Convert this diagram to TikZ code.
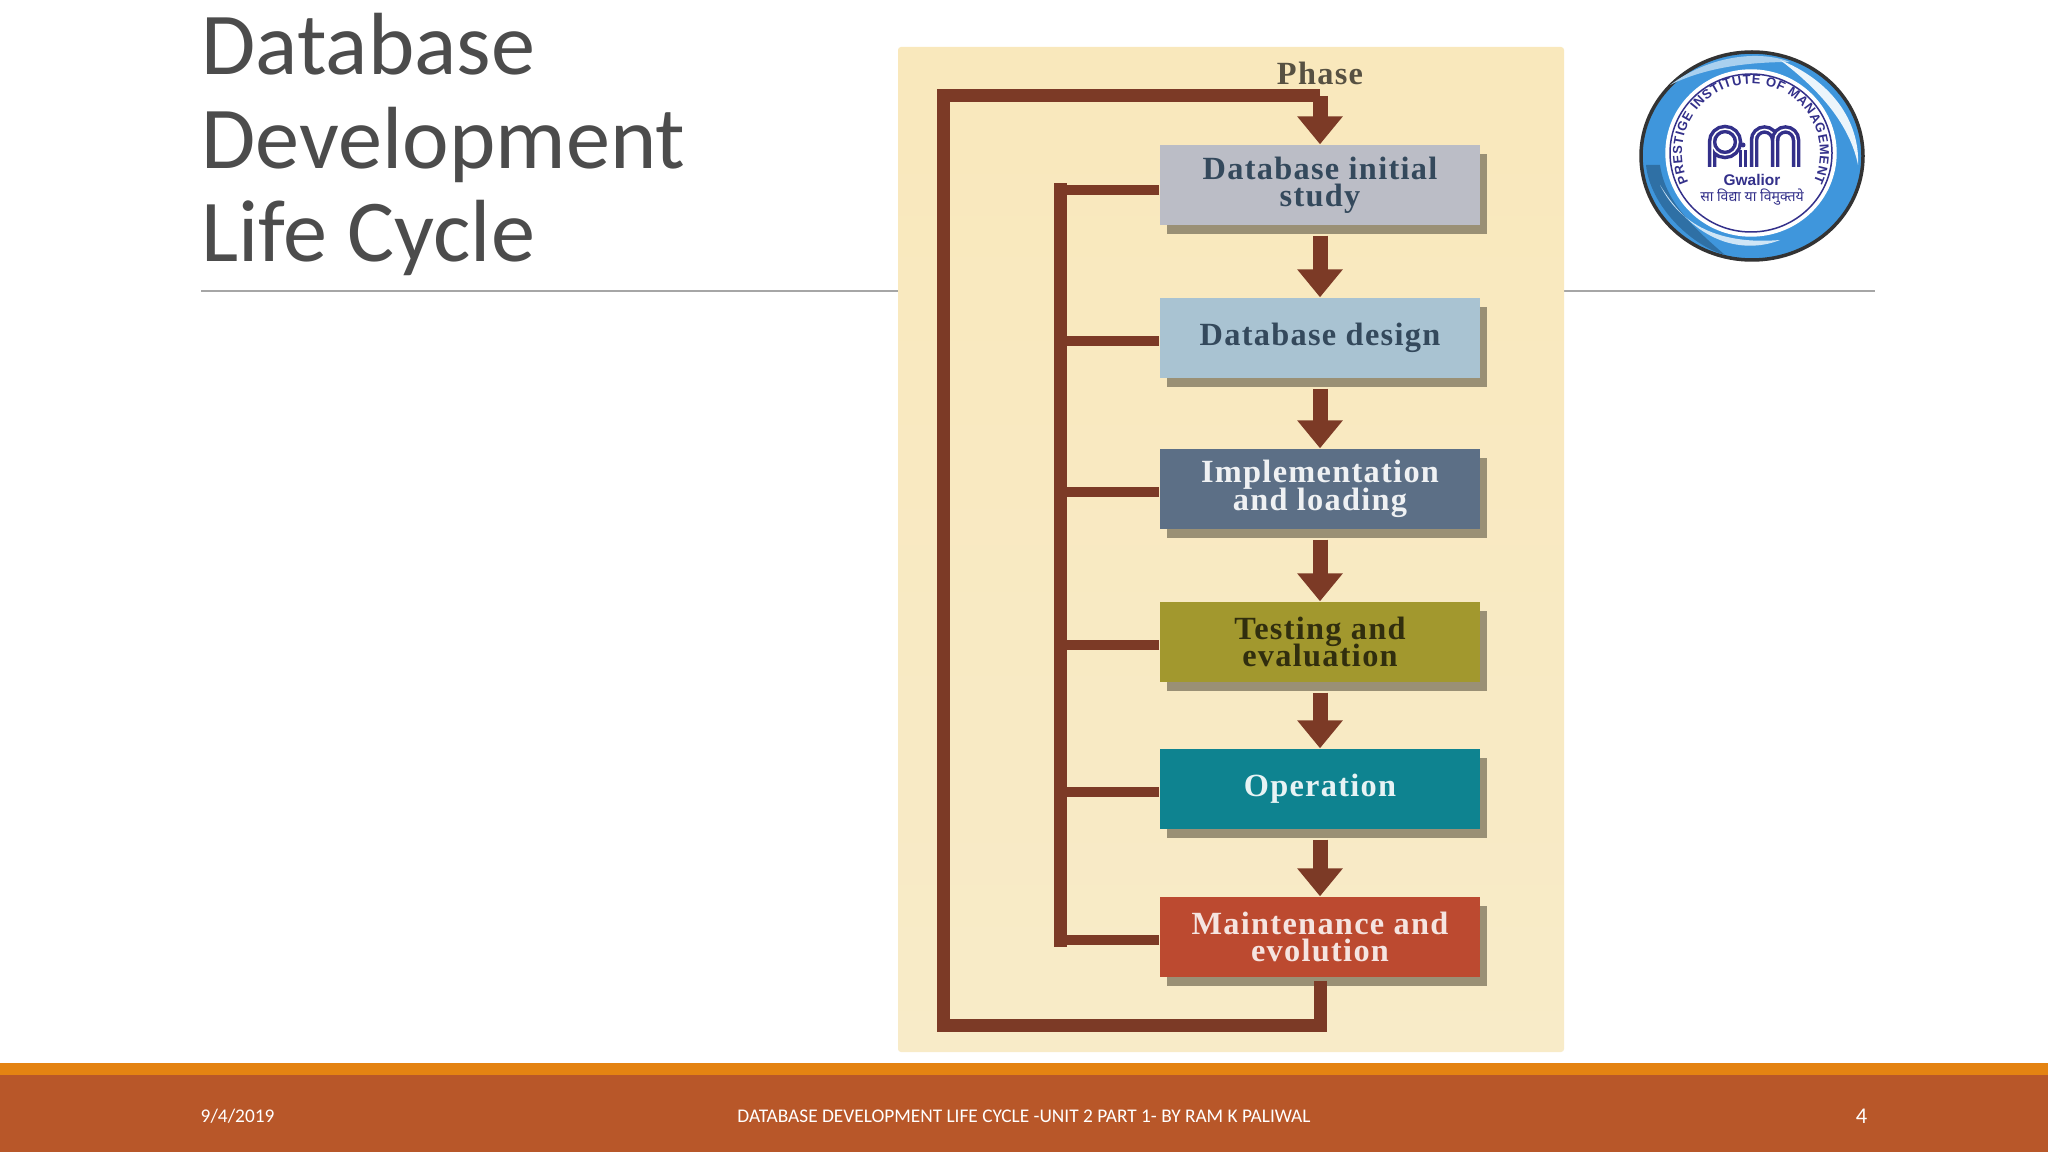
\documentclass[tikz,border=0pt]{standalone}
\usepackage{fontspec}
\usepackage{xcolor}
\setmainfont{Carlito}
\setsansfont{Liberation Sans}
\newfontfamily\boxfont[LetterSpace=4]{Liberation Serif}
\newfontfamily\hindifont[Script=Devanagari]{Noto Sans}
\usetikzlibrary{arrows.meta,positioning,calc,shadows,decorations.text}
\setlength{\lineskiplimit}{-10pt}
\definecolor{panelcol}{HTML}{F9E8BC}
\definecolor{panellow}{HTML}{F8EBC8}
\definecolor{linkcol}{HTML}{7C3A26}
\definecolor{logoblue}{HTML}{3F96DC}
\definecolor{logonavy}{HTML}{33308A}
\definecolor{initcol}{HTML}{BBBDC6}
\definecolor{designcol}{HTML}{A9C3D2}
\definecolor{implcol}{HTML}{5C6F86}
\definecolor{testcol}{HTML}{A2982E}
\definecolor{opercol}{HTML}{0E8390}
\definecolor{maintcol}{HTML}{BC4A30}
\definecolor{darktext}{HTML}{34495C}
\definecolor{bandcol}{HTML}{B85729}
\definecolor{stripecol}{HTML}{E48312}
\begin{document}
\begin{tikzpicture}[
  x=0.01cm, y=0.01cm,
  phasebox/.style={rectangle, minimum width=3.2cm, minimum height=0.8cm, inner sep=0pt, align=center,
    font=\boxfont\bfseries\fontsize{9.2}{7.8}\selectfont,
    drop shadow={shadow xshift=0.07cm, shadow yshift=-0.09cm, fill=black!38!panelcol, opacity=1}},
  flow/.style={-{Triangle[length=0.28cm,width=0.44cm]}, line width=0.15cm, draw=linkcol},
  loopline/.style={line width=0.13cm, draw=linkcol},
  branch/.style={line width=0.1cm, draw=linkcol},
  foot/.style={text=white, font=\fontsize{5.5}{6.5}\selectfont, inner sep=0pt},
  monogram/.style={draw=logonavy, line width=0.035cm, double=white, double distance=0.015cm}
]
\useasboundingbox (0,-1152) rectangle (2048,0);
\fill[white] (0,-1152) rectangle (2048,0);
\node[anchor=north west, inner sep=0pt, align=left, text=black!70, font=\fontsize{25.1}{26.5}\selectfont] (title) at (201,-13) {Database\\Development\\Life Cycle};
\draw[black!35, line width=0.012cm] (201,-291) -- (1875,-291);
\shade[top color=panelcol, bottom color=panellow, rounded corners=0.03cm] (898,-47) rectangle (1564,-1052);

\node[text=black!65!panelcol, font=\boxfont\bfseries\fontsize{9.2}{10}\selectfont, inner sep=0pt] (phase) at (1320,-73) {Phase};
\node[phasebox, fill=initcol, text=darktext] (initial) at (1320,-185) {Database initial\\study};
\node[phasebox, fill=designcol, text=darktext] (design) at (1320,-338) {Database design};
\node[phasebox, fill=implcol, text=white!90!implcol] (impl) at (1320,-489) {Implementation\\and loading};
\node[phasebox, fill=testcol, text=black!70!testcol] (testing) at (1320,-642) {Testing and\\evaluation};
\node[phasebox, fill=opercol, text=white!90!opercol] (oper) at (1320,-789) {Operation};
\node[phasebox, fill=maintcol, text=white!85!maintcol] (maint) at (1320,-937) {Maintenance and\\evolution};

\coordinate (bus) at (1060,-190);
\coordinate (outer) at (943,-96);
\coordinate (bottom) at (943,-1025);

\draw[loopline] ([yshift=-0.03cm]maint.south) |- (bottom) -- (outer) -- (outer -| initial.north);
\draw[flow] (outer -| initial.north) -- (initial.north);
\draw[flow, shorten <=0.1cm] (initial) -- (design);
\draw[flow, shorten <=0.1cm] (design) -- (impl);
\draw[flow, shorten <=0.1cm] (impl) -- (testing);
\draw[flow, shorten <=0.1cm] (testing) -- (oper);
\draw[flow, shorten <=0.1cm] (oper) -- (maint);

\draw[loopline, line cap=rect] (bus) -- ([yshift=-0.03cm]bus |- maint.west);
\draw[branch] ([yshift=-0.05cm]initial.west) -- ([yshift=-0.05cm]initial.west -| bus);
\foreach \n in {design,impl,testing,oper,maint}
  \draw[branch] ([yshift=-0.03cm]\n.west) -- ([yshift=-0.03cm]\n.west -| bus);

\filldraw[fill=logoblue, draw=black!80, line width=0.035cm] (1752,-156) ellipse (111 and 104);
\fill[logoblue!45!white] (1670,-85) .. controls (1710,-55) and (1760,-50) .. (1790,-62) .. controls (1740,-62) and (1700,-70) .. (1670,-85);
\fill[white!90!logoblue] (1780,-60) .. controls (1830,-80) and (1860,-120) .. (1858,-165) .. controls (1850,-125) and (1820,-90) .. (1780,-60);
\fill[black!25!logoblue] (1646,-165) .. controls (1650,-205) and (1690,-245) .. (1725,-255) .. controls (1690,-225) and (1665,-200) .. (1660,-165) -- cycle;
\fill[white!75!logoblue] (1660,-185) .. controls (1680,-225) and (1720,-245) .. (1780,-240) .. controls (1750,-252) and (1700,-250) .. (1660,-185);
\filldraw[fill=white, draw=white] (1751,-153) ellipse (85 and 83);
\draw[logonavy, line width=0.015cm] (1751,-153) ellipse (81 and 79);
\path[decorate, decoration={text along path, text align=fit to path,
  text={|\sffamily\bfseries\fontsize{3.7}{4}\selectfont\color{logonavy}|PRESTIGE INSTITUTE OF MANAGEMENT}}]
  (1751,-153) ++(205:69) arc[start angle=205, end angle=-25, radius=69];
\draw[monogram] (1712,-167) -- (1712,-142) arc[start angle=180, delta angle=-360, radius=13];
\draw[monogram] (1743,-167) -- (1743,-150);
\draw[monogram] (1754,-167) -- (1754,-140) arc[start angle=180, delta angle=-180, radius=10.5] -- (1775,-167);
\draw[monogram] (1775,-140) arc[start angle=180, delta angle=-180, radius=10.5] -- (1796,-167);
\fill[logonavy] (1743,-145) circle (2.5);
\node[text=logonavy, inner sep=0pt, font=\sffamily\bfseries\fontsize{4.4}{6}\selectfont] (city) at (1752,-180) {Gwalior};
\node[text=logonavy, inner sep=0pt, font=\hindifont\fontsize{4}{5}\selectfont] (motto) at (1752,-197) {सा विद्या या विमुक्तये};

\fill[stripecol] (0,-1075) rectangle (2048,-1063);
\fill[bandcol] (0,-1152) rectangle (2048,-1075);
\node[foot, anchor=west] (date) at (200,-1116) {9/4/2019};
\node[foot] (footer) at (1024,-1116) {DATABASE DEVELOPMENT LIFE CYCLE -UNIT 2 PART 1- BY RAM K PALIWAL};
\node[foot, anchor=east, font=\fontsize{6.4}{7}\selectfont] (page) at (1868,-1116) {4};
\end{tikzpicture}
\end{document}
